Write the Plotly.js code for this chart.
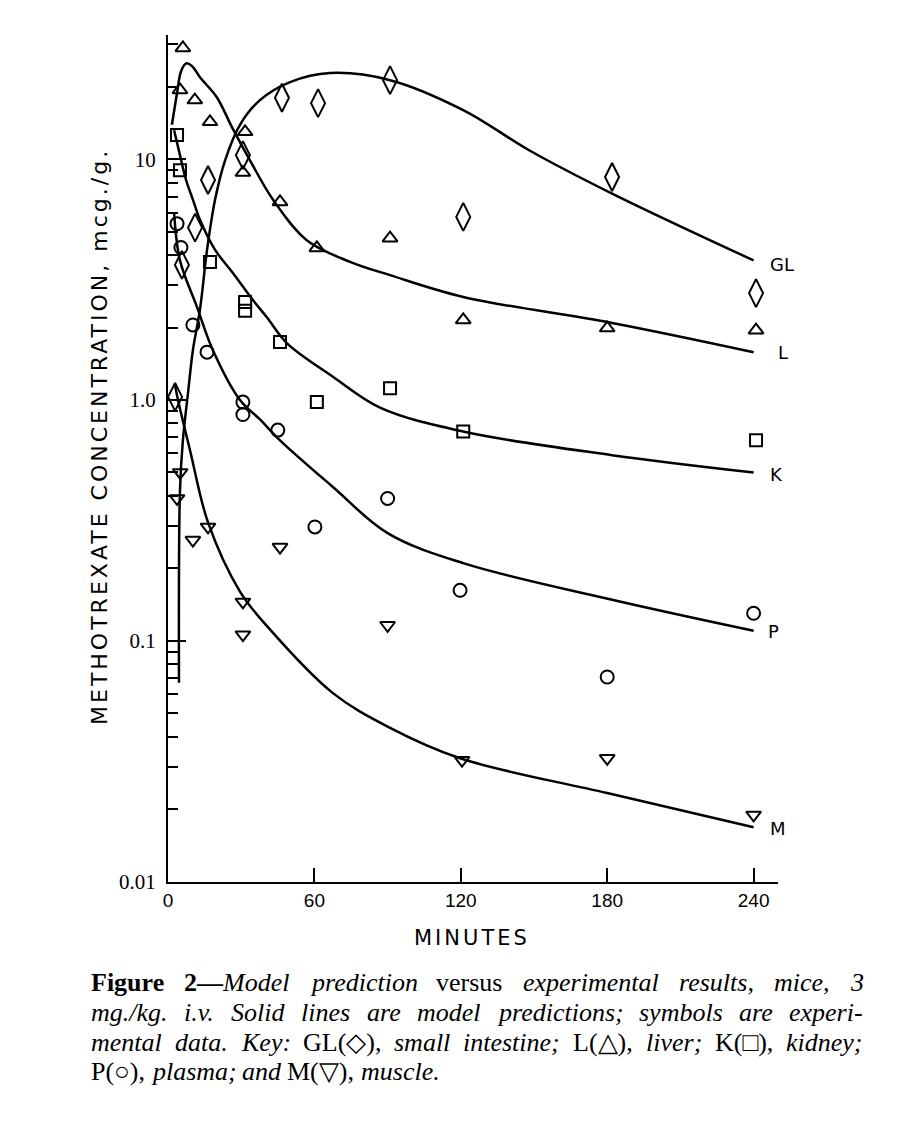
<!DOCTYPE html>
<html>
<head>
<meta charset="utf-8">
<script src="https://cdn.plot.ly/plotly-3.0.1.min.js"></script>
<style>
html,body{margin:0;padding:0;background:#fff;}
#chart{width:898px;height:1121px;}
</style>
</head>
<body>
<div id="chart"></div>
<script>
// ---- experimental data (minutes, mcg/g) ----
const glT = [2.9, 5.7, 11.1, 16.4, 30.7, 46.7, 61.5, 91, 121, 182, 241];
const glV = [1.03, 3.64, 5.2, 8.2, 10.4, 18.0, 17.1, 21.3, 5.76, 8.44, 2.78];

const lT = [6.1, 4.9, 11, 17.2, 31.6, 30.7, 45.9, 61, 91, 121, 180, 241];
const lV = [29, 19.4, 17.6, 14.3, 13.0, 8.8, 6.65, 4.28, 4.7, 2.15, 1.99, 1.95];

const kT = [3.7, 4.9, 17.2, 31.6, 31.6, 45.9, 61, 91, 121, 241];
const kV = [12.6, 9.0, 3.74, 2.55, 2.35, 1.74, 0.98, 1.12, 0.74, 0.68];

const pT = [3.7, 5.3, 10.2, 16, 30.7, 30.7, 45, 60.2, 90, 119.7, 180, 240];
const pV = [5.4, 4.3, 2.05, 1.58, 0.98, 0.87, 0.75, 0.297, 0.39, 0.162, 0.0707, 0.130];

const mT = [5, 3.7, 10.2, 16.4, 30.7, 30.7, 45.9, 90, 120.5, 180, 240];
const mV = [0.50, 0.39, 0.262, 0.297, 0.145, 0.106, 0.245, 0.116, 0.0319, 0.0325, 0.0189];

// ---- model predictions ----
const glModelT = [4.5, 4.9, 6.1, 8.2, 10.2, 13.1, 16.0, 19.3, 23.4, 29.5, 37.7, 50, 66.4, 91, 121, 148, 182, 240];
const glModelV = [0.067, 0.42, 0.68, 1.07, 1.61, 2.37, 4.2, 6.8, 9.9, 13.9, 17.6, 20.9, 22.8, 21.3, 16.0, 10.9, 7.2, 3.8];

const lModelT = [1.6, 3.7, 5.3, 7.4, 9.8, 13.1, 20, 26.2, 33.6, 43, 57, 74.6, 91, 121, 182, 240];
const lModelV = [13.9, 18.8, 23.1, 25, 24.4, 21.9, 18.1, 13.6, 9.9, 6.8, 4.6, 3.75, 3.3, 2.68, 2.09, 1.58];

const kModelT = [2.5, 4.9, 7.4, 10.2, 13.1, 19.3, 26.6, 34.8, 40.6, 48.8, 67.6, 86.9, 120.9, 182, 240];
const kModelV = [13.2, 10.4, 8.2, 6.8, 5.6, 4.2, 3.37, 2.6, 2.2, 1.72, 1.25, 0.93, 0.74, 0.59, 0.50];

const pModelT = [2.5, 4.9, 11.9, 18.4, 29.5, 37.7, 45.9, 67.6, 90, 121, 182, 240];
const pModelV = [6.0, 3.8, 2.43, 1.61, 1.0, 0.83, 0.68, 0.435, 0.28, 0.21, 0.148, 0.11];

const mModelT = [2.9, 4.1, 9.0, 16.4, 29.5, 40.6, 67.6, 90, 119.7, 180, 240];
const mModelV = [1.15, 1.0, 0.62, 0.31, 0.16, 0.115, 0.0606, 0.044, 0.0325, 0.0233, 0.0168];

// ---- ticks ----
const xTickVals = [0, 60, 120, 180, 240];
const xTickText = ["0", "60", "120", "180", "240"];
const yTickVals = [0.01, 0.1, 1, 10];
const yTickText = ["0.01", "0.1", "1.0", "10"];

const curveLabels = ["GL", "L", "K", "P", "M"];
const curveLabelY = [3.64, 1.57, 0.49, 0.109, 0.0166];
const curveLabelXpx = [768, 776, 768, 766, 768];

// ---- caption ----
const captionLines = [
  {just: true, tokens: [[["b","Figure"]], [["b","2—"],["i","Model"]], [["i","prediction"]], [["r","versus"]], [["i","experimental"]], [["i","results,"]], [["i","mice,"]], [["i","3"]]]},
  {just: true, tokens: [[["i","mg./kg."]], [["i","i.v."]], [["i","Solid"]], [["i","lines"]], [["i","are"]], [["i","model"]], [["i","predictions;"]], [["i","symbols"]], [["i","are"]], [["i","experi-"]]]},
  {just: true, tokens: [[["i","mental"]], [["i","data."]], [["i","Key:"]], [["r","GL(◇),"]], [["i","small"]], [["i","intestine;"]], [["r","L(△),"]], [["i","liver;"]], [["r","K(□),"]], [["i","kidney;"]]]},
  {just: false, tokens: [[["r","P(○),"]], [["i","plasma;"]], [["i","and"]], [["r","M(▽),"]], [["i","muscle."]]]}
];
const captionY = [983, 1012, 1042, 1071];

// ---- geometry helpers (layout only) ----
const L = 168, R = 778, T = 35, B = 882;
const pxX = px => (px - L) / (R - L);
const pxY = py => (B - py) / (B - T);

const black = "#000";
function markerTrace(x, y, sym, size) {
  return {x: x, y: y, type: "scatter", mode: "markers", cliponaxis: false,
    marker: {symbol: sym, size: size, color: black, line: {width: 2, color: black}}, hoverinfo: "skip"};
}
function lineTrace(x, y) {
  return {x: x, y: y, type: "scatter", mode: "lines", line: {color: black, width: 2.5, shape: "spline", smoothing: 1.0}, hoverinfo: "skip"};
}

const traces = [
  lineTrace(glModelT, glModelV),
  lineTrace(lModelT, lModelV),
  lineTrace(kModelT, kModelV),
  lineTrace(pModelT, pModelV),
  lineTrace(mModelT, mModelV),
  markerTrace(glT, glV, "diamond-tall-open", 20),
  markerTrace(lT, lV, "triangle-up-open", 13),
  markerTrace(kT, kV, "square-open", 12),
  markerTrace(pT, pV, "circle-open", 13),
  markerTrace(mT, mV, "triangle-down-open", 13)
];

const minorVals = [];
for (let d = -2; d <= 1; d++) for (let m = 2; m <= 9; m++) {
  const v = m * Math.pow(10, d);
  if (v < 33) minorVals.push(v);
}

const sans = "DejaVu Sans, Liberation Sans, Arial, sans-serif";
const annotations = [];
// curve labels
curveLabels.forEach((t, i) => annotations.push({
  text: t, xref: "paper", yref: "y", x: pxX(curveLabelXpx[i]), y: Math.log10(curveLabelY[i]),
  xanchor: "left", yanchor: "middle", showarrow: false,
  font: {family: sans, size: 18, color: black}
}));
// axis titles (tracked letters, as in the original typesetting)
annotations.push({text: '<span style="letter-spacing:3px">METHOTREXATE CONCENTRATION, mcg./g.</span>', xref: "paper", yref: "paper",
  x: pxX(99), y: pxY(437), textangle: -90, showarrow: false, xanchor: "center", yanchor: "middle",
  font: {family: sans, size: 22, color: black}});
annotations.push({text: '<span style="letter-spacing:3px">MINUTES</span>', xref: "paper", yref: "paper",
  x: pxX(472), y: pxY(938), showarrow: false, xanchor: "center", yanchor: "middle",
  font: {family: sans, size: 21, color: black}});

// caption with justification
const capSize = 26;
const serif = "Liberation Serif";
const cnv = document.createElement("canvas");
const ctx = cnv.getContext("2d");
function fontFor(style) {
  if (style === "b") return "bold " + capSize + "px '" + serif + "'";
  if (style === "i") return "italic " + capSize + "px '" + serif + "'";
  return capSize + "px '" + serif + "'";
}
function measureRuns(runs) {
  let w = 0;
  runs.forEach(r => { ctx.font = fontFor(r[0]); w += ctx.measureText(r[1]).width; });
  return w;
}
function htmlRuns(runs) {
  return runs.map(r => r[0] === "b" ? "<b>" + r[1] + "</b>" : r[0] === "i" ? "<i>" + r[1] + "</i>" : r[1]).join("");
}
const capLeft = 90, capRight = 862;
ctx.font = fontFor("i");
const spaceW = ctx.measureText(" ").width;
captionLines.forEach((line, li) => {
  const widths = line.tokens.map(measureRuns);
  const total = widths.reduce((a, b) => a + b, 0);
  const gap = line.just ? (capRight - capLeft - total) / (line.tokens.length - 1) : spaceW;
  let cur = capLeft;
  line.tokens.forEach((tok, ti) => {
    annotations.push({text: htmlRuns(tok), xref: "paper", yref: "paper", x: pxX(cur), y: pxY(captionY[li]),
      xanchor: "left", yanchor: "middle", showarrow: false, borderpad: 0,
      font: {family: serif + ", Times New Roman, serif", size: capSize, color: black}});
    cur += widths[ti] + gap;
  });
});

const layout = {
  width: 898, height: 1121,
  margin: {l: L, r: 898 - R, t: T, b: 1121 - B},
  paper_bgcolor: "#fff", plot_bgcolor: "#fff",
  showlegend: false,
  xaxis: {range: [0, 250], showline: true, linecolor: black, linewidth: 2, mirror: false,
    showgrid: false, zeroline: false, ticks: "inside", ticklen: 14, tickwidth: 2, tickcolor: black,
    tickmode: "array", tickvals: xTickVals, ticktext: xTickText,
    tickfont: {family: "Liberation Sans, Arial, sans-serif", size: 19, color: black}},
  yaxis: {type: "log", range: [-2.002, 1.516], showline: true, linecolor: black, linewidth: 2, mirror: false,
    showgrid: false, zeroline: false, ticks: "inside", ticklen: 18, tickwidth: 2, tickcolor: black,
    tickmode: "array", tickvals: yTickVals, ticktext: yTickText, ticklabelstandoff: 6,
    tickfont: {family: "Liberation Serif, Times New Roman, serif", size: 21, color: black},
    minor: {ticks: "inside", ticklen: 10, tickwidth: 2, tickcolor: black, tickmode: "array", tickvals: minorVals, showgrid: false}},
  annotations: annotations
};

Plotly.newPlot("chart", traces, layout, {staticPlot: true, displayModeBar: false});
</script>
</body>
</html>
